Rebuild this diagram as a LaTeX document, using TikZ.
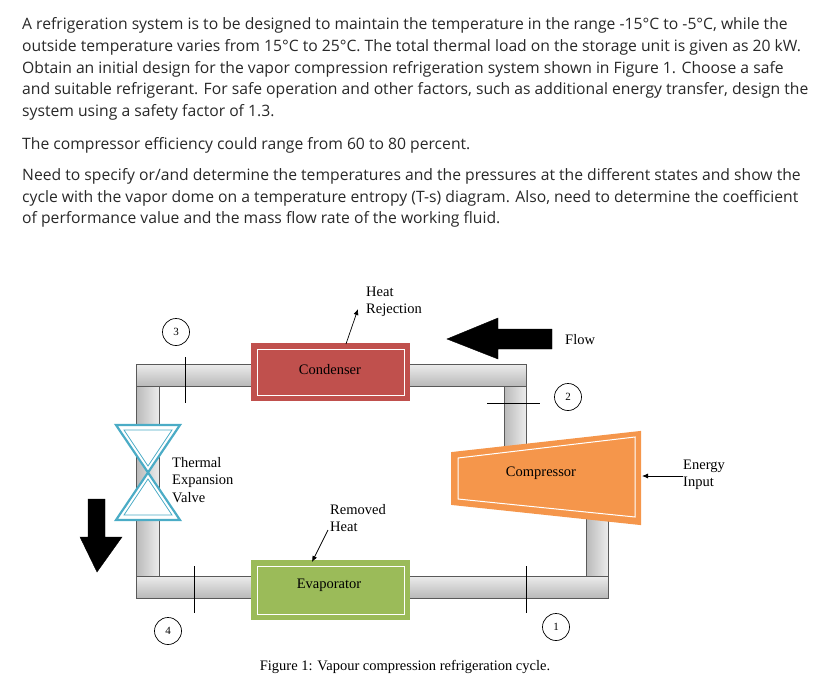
\documentclass[tikz,border=0pt]{standalone}
\usepackage{fontspec}
\setmainfont{Liberation Serif}
\newfontfamily\parafont{Open Sans}
\usetikzlibrary{arrows.meta}
\definecolor{condred}{RGB}{192,80,77}
\definecolor{evapgreen}{RGB}{155,187,89}
\definecolor{compor}{RGB}{245,150,75}
\definecolor{valveblue}{RGB}{75,172,198}
\definecolor{txt}{RGB}{40,40,40}
\tikzset{
  para/.style={anchor=west,inner sep=0pt,font=\parafont\fontsize{15.7}{18}\selectfont,text=txt},
  lbl/.style={inner sep=0pt,font=\fontsize{14.5}{17.5}\selectfont,align=left},
  hpipe/.style={top color=gray!15,bottom color=gray!55,draw=gray!70!black,line width=0.6pt},
  vpipe/.style={left color=gray!55,right color=gray!15,draw=gray!70!black,line width=0.6pt},
  circ/.style={circle,draw,line width=0.7pt,minimum size=27pt,inner sep=0pt,font=\fontsize{11}{12}\selectfont},
  tick/.style={line width=0.8pt},
  box/.style={draw=#1,line width=2pt,fill=#1},
}
\begin{document}
\begin{tikzpicture}[x=1pt,y=-1pt]
\useasboundingbox (0,0) rectangle (829,688);
% paragraph text
\node[para] (l1) at (22,25) {A refrigeration system is to be designed to maintain the temperature in the range -15°C to -5°C, while the};
\node[para] (l2) at (22,47) {outside temperature varies from 15°C to 25°C. The total thermal load on the storage unit is given as 20 kW.};
\node[para] (l3) at (22,69) {Obtain an initial design for the vapor compression refrigeration system shown in Figure 1. Choose a safe};
\node[para] (l4) at (22,90) {and suitable refrigerant. For safe operation and other factors, such as additional energy transfer, design the};
\node[para] (l5) at (22,112) {system using a safety factor of 1.3.};
\node[para] (l6) at (22,145) {The compressor efficiency could range from 60 to 80 percent.};
\node[para] (l7) at (22,176) {Need to specify or/and determine the temperatures and the pressures at the different states and show the};
\node[para] (l8) at (22,198) {cycle with the vapor dome on a temperature entropy (T-s) diagram. Also, need to determine the coefficient};
\node[para] (l9) at (22,219) {of performance value and the mass flow rate of the working fluid.};
% pipes
\draw[vpipe] (136,364) rectangle (159,598);
\draw[vpipe] (586,480) rectangle (608,598);
\draw[vpipe] (504,364) rectangle (526,470);
\draw[hpipe] (136,364) rectangle (526,386);
\draw[hpipe] (136,576) rectangle (608,598);
% ticks
\draw[tick] (185,357) -- (185,403);
\draw[tick] (487,403) -- (540,403);
\draw[tick] (194,566) -- (194,613);
\draw[tick] (526,566) -- (526,613);
% condenser
\draw[box=condred] (252,344) rectangle (409,400);
\draw[white,line width=1pt] (257,349) rectangle (404,395);
\node[lbl] (cond) at (330,370) {Condenser};
% evaporator
\draw[box=evapgreen] (252,561) rectangle (409,619);
\draw[white,line width=1pt] (257,566) rectangle (404,614);
\node[lbl] (evap) at (329,585) {Evaporator};
% compressor
\draw[fill=compor,draw=compor,line width=2pt] (452,453) -- (640,432) -- (640,524) -- (452,504) -- cycle;
\draw[white,line width=1pt] (458,458) -- (635,437) -- (635,517) -- (458,499) -- cycle;
\node[lbl] (comp) at (541,473) {Compressor};
% valve
\draw[valveblue,fill=white,line width=2.2pt] (116,425) -- (180,425) -- (116,520) -- (180,520) -- cycle;
\draw[valveblue,line width=0.8pt] (124,430) -- (172,430) -- (148,466) -- cycle;
\draw[valveblue,line width=0.8pt] (124,515) -- (172,515) -- (148,479) -- cycle;
\node[lbl,anchor=west] (tev) at (172,480) {Thermal\\Expansion\\Valve};
% circles
\node[circ] (c3) at (176,332) {3};
\node[circ] (c2) at (568,397) {2};
\node[circ] (c4) at (168,631) {4};
\node[circ] (c1) at (556,627) {1};
% heat rejection
\node[lbl,anchor=west] (hr) at (366,302) {Heat\\Rejection};
\coordinate (hrs) at (346,344);
\draw[-{Latex[length=6pt,width=5pt]},line width=0.7pt] (hrs) -- (358,309);
% removed heat
\node[lbl,anchor=west] (rh) at (330,518) {Removed\\Heat};
\coordinate (rhe) at (312,562);
\draw[-{Latex[length=6pt,width=5pt]},line width=0.7pt] (328,530) -- (rhe);
% energy input
\node[lbl,anchor=west] (ei) at (683,475) {Energy\\Input};
\coordinate (eie) at (642,476);
\draw[-{Latex[length=6pt,width=5pt]},line width=0.8pt] (ei.west) ++(0,1) -- (eie);
% flow arrow
\draw[fill=black] (552,329) -- (498,329) -- (498,318) -- (447,339) -- (498,359) -- (498,349) -- (552,349) -- cycle;
\node[lbl,anchor=west] (flow) at (565,340) {Flow};
% down arrow
\draw[fill=black] (88,499) -- (105,499) -- (105,537) -- (122,537) -- (97,572) -- (80,537) -- (88,537) -- cycle;
% caption
\node[lbl] (cap) at (405,667) {Figure 1: Vapour compression refrigeration cycle.};
\end{tikzpicture}
\end{document}
